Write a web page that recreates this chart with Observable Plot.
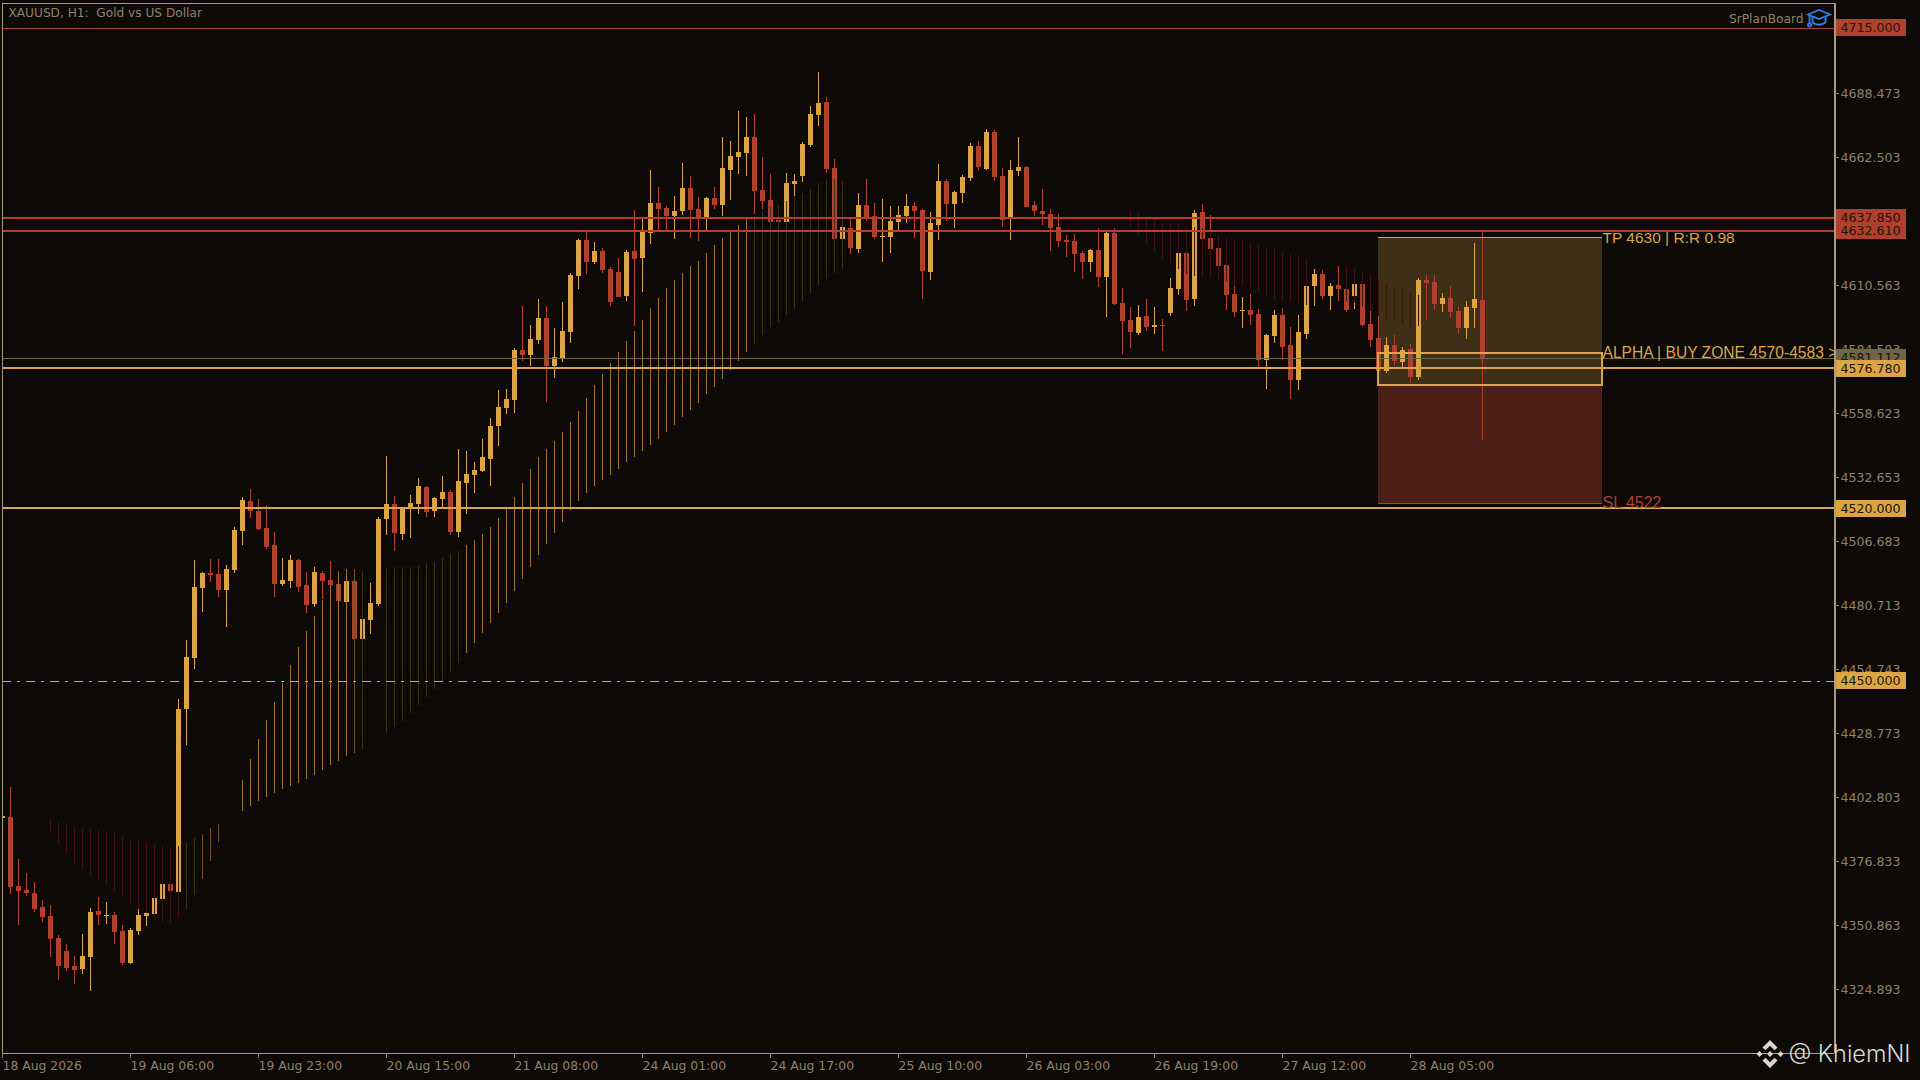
<!DOCTYPE html>
<html>
<head>
<meta charset="utf-8">
<title>XAUUSD H1</title>
<style>html,body{margin:0;padding:0;background:#0c0907;overflow:hidden}svg{display:block}</style>
<script src="https://cdn.jsdelivr.net/npm/d3@7"></script>
<script src="https://cdn.jsdelivr.net/npm/@observablehq/plot@0.6"></script>
</head>
<body>
<div id="chart"></div>
<script>
const high = [
4395.1,4406.9,4377.6,4372.0,4368.3,4361.0,4359.0,4346.8,4343.2,4338.3,
4347.2,4357.8,4362.2,4360.2,4356.1,4350.8,4349.6,4357.4,4355.7,4361.8,
4367.5,4367.5,4442.6,4466.5,4499.0,4494.1,4499.4,4499.4,4497.0,4512.4,
4524.5,4527.8,4523.7,4521.3,4510.3,4499.8,4501.0,4499.4,4494.1,4496.1,
4494.5,4498.6,4494.5,4490.4,4490.4,4475.0,4489.6,4516.4,4541.2,4524.9,
4520.1,4525.3,4532.2,4529.0,4524.5,4533.0,4527.4,4544.0,4543.2,4538.7,
4548.1,4556.6,4568.0,4568.4,4585.0,4602.0,4594.3,4604.9,4602.0,4593.1,
4603.7,4615.4,4629.2,4632.1,4628.0,4625.6,4617.9,4621.5,4624.8,4641.0,
4637.3,4657.2,4650.3,4642.6,4646.7,4660.1,4654.8,4646.3,4646.3,4650.3,
4670.6,4669.0,4681.2,4678.7,4679.9,4662.5,4655.6,4636.9,4656.0,4655.6,
4668.6,4683.2,4697.0,4686.8,4661.7,4634.1,4637.3,4647.9,4653.6,4643.8,
4645.5,4642.6,4642.6,4647.5,4644.2,4641.4,4640.2,4659.7,4653.6,4648.7,
4655.2,4668.2,4669.0,4673.9,4673.5,4658.0,4661.3,4670.6,4658.8,4644.6,
4649.5,4641.4,4639.4,4630.8,4631.2,4624.4,4625.2,4633.7,4632.1,4633.7,
4609.4,4601.6,4602.4,4604.9,4601.6,4596.8,4613.4,4623.5,4623.5,4641.0,
4643.4,4639.0,4625.6,4618.7,4611.4,4605.7,4606.9,4600.8,4590.7,4600.4,
4601.2,4593.5,4598.4,4610.2,4617.1,4616.7,4611.4,4618.3,4608.9,4611.0,
4611.0,4600.0,4598.0,4589.5,4590.3,4585.4,4586.6,4613.4,4614.6,4614.6,
4607.3,4610.2,4601.6,4604.1,4627.6,4632.1];
const bodyTop = [
4395.1,4394.7,4366.7,4365.1,4363.8,4358.2,4354.5,4345.6,4340.3,4334.2,
4338.3,4356.1,4356.5,4354.9,4354.9,4348.4,4348.8,4354.9,4355.7,4361.8,
4367.5,4367.5,4438.5,4459.6,4488.0,4493.7,4493.7,4493.3,4495.3,4511.1,
4523.3,4522.9,4518.9,4512.0,4505.1,4490.9,4499.0,4499.0,4488.8,4494.1,
4493.7,4490.9,4489.2,4490.4,4490.4,4475.0,4481.5,4515.6,4521.7,4521.7,
4520.1,4522.1,4529.0,4528.6,4524.1,4526.6,4526.6,4531.0,4533.9,4535.5,
4540.8,4553.3,4561.1,4564.3,4584.2,4584.2,4588.6,4597.2,4597.2,4581.3,
4591.9,4614.6,4628.8,4628.8,4624.4,4624.4,4617.1,4615.8,4624.0,4624.4,
4632.5,4643.8,4643.8,4641.8,4640.6,4649.9,4649.9,4641.4,4645.9,4645.9,
4658.0,4662.9,4664.5,4670.6,4670.6,4649.1,4645.1,4636.9,4652.0,4652.8,
4667.8,4679.9,4684.4,4684.8,4658.0,4634.1,4633.7,4643.0,4643.0,4638.6,
4630.4,4636.5,4639.0,4642.6,4642.6,4641.0,4635.7,4652.8,4652.8,4648.3,
4654.4,4667.0,4667.0,4672.6,4672.6,4654.8,4657.2,4658.4,4658.4,4643.0,
4640.6,4639.4,4634.1,4628.8,4628.4,4623.5,4624.8,4624.8,4631.7,4631.7,
4603.3,4596.4,4597.6,4598.0,4594.3,4594.3,4609.3,4623.5,4623.5,4639.8,
4640.2,4629.6,4625.6,4618.7,4606.9,4600.4,4600.4,4598.8,4590.3,4598.4,
4598.4,4586.2,4591.5,4610.2,4615.0,4615.0,4610.2,4610.6,4608.9,4611.0,
4611.0,4594.7,4589.1,4586.2,4586.2,4584.2,4584.6,4612.6,4612.6,4611.8,
4605.3,4605.3,4600.0,4601.6,4604.9,4604.5];
const bodyBottom = [
4394.3,4366.3,4364.7,4363.8,4357.4,4354.1,4345.2,4334.2,4333.4,4332.6,
4333.0,4337.9,4354.9,4354.5,4348.0,4335.4,4335.4,4348.4,4354.5,4355.3,
4361.4,4364.7,4364.2,4438.5,4459.2,4487.6,4492.9,4486.8,4486.8,4494.9,
4510.7,4518.9,4511.5,4504.3,4489.2,4489.2,4490.4,4488.0,4480.7,4481.1,
4490.4,4488.8,4482.3,4481.9,4466.9,4466.9,4474.6,4481.1,4515.6,4509.9,
4509.5,4520.1,4521.7,4518.4,4518.9,4523.7,4510.3,4510.3,4530.2,4533.5,
4535.1,4540.0,4553.3,4560.6,4563.9,4582.2,4582.2,4588.2,4577.7,4577.7,
4580.9,4591.5,4614.2,4619.9,4619.9,4616.7,4603.7,4605.7,4606.1,4621.1,
4621.5,4631.7,4641.4,4638.6,4638.6,4640.6,4641.0,4637.8,4637.8,4643.0,
4643.0,4657.2,4662.5,4664.1,4648.7,4644.6,4636.1,4636.1,4636.1,4651.5,
4654.8,4667.4,4679.5,4657.6,4629.2,4629.2,4625.6,4625.2,4637.7,4630.1,
4630.1,4630.1,4636.1,4638.6,4640.6,4616.2,4615.8,4634.9,4643.4,4643.4,
4647.9,4654.0,4658.4,4657.6,4654.4,4636.9,4638.2,4656.8,4642.2,4640.6,
4639.4,4633.7,4628.4,4628.0,4623.1,4619.9,4619.9,4613.8,4613.8,4602.9,
4596.0,4591.5,4591.1,4593.5,4593.5,4593.9,4599.2,4608.9,4604.5,4604.9,
4629.2,4625.2,4618.3,4606.5,4599.6,4600.0,4598.4,4580.1,4580.1,4589.9,
4585.4,4572.0,4572.0,4590.7,4610.2,4606.1,4606.1,4608.9,4600.4,4606.1,
4594.3,4588.2,4575.7,4575.7,4579.7,4579.3,4573.2,4573.2,4611.4,4602.9,
4602.9,4599.6,4593.1,4593.1,4601.2,4580.5];
const low = [
4394.3,4363.4,4350.8,4362.6,4356.1,4352.1,4337.9,4328.6,4332.2,4326.9,
4331.0,4324.1,4350.8,4351.3,4343.2,4334.6,4335.0,4346.8,4350.4,4352.9,
4361.4,4364.7,4364.2,4423.9,4454.7,4477.9,4490.0,4484.0,4471.8,4493.7,
4505.1,4516.0,4511.1,4503.4,4484.0,4488.4,4487.6,4486.0,4477.5,4479.9,
4483.1,4488.8,4482.3,4481.9,4466.9,4466.9,4468.9,4480.3,4509.1,4502.6,
4507.1,4507.9,4517.6,4516.4,4516.4,4520.5,4509.1,4508.3,4517.6,4526.2,
4534.7,4529.0,4545.2,4558.2,4558.6,4579.7,4577.7,4586.6,4563.1,4572.8,
4579.3,4587.0,4608.9,4615.0,4619.1,4615.4,4602.0,4605.7,4604.1,4593.9,
4607.7,4627.2,4632.5,4632.5,4629.2,4639.0,4629.6,4628.4,4632.9,4641.4,
4638.6,4645.1,4655.6,4654.8,4639.4,4641.4,4636.1,4636.1,4636.1,4646.7,
4652.4,4666.6,4675.1,4656.0,4629.2,4629.2,4623.1,4623.5,4636.5,4629.2,
4619.9,4623.5,4632.9,4635.7,4629.6,4604.9,4612.6,4628.8,4636.5,4633.7,
4643.8,4652.8,4657.2,4657.2,4652.8,4634.1,4628.8,4654.8,4642.2,4638.6,
4634.9,4624.4,4626.0,4621.9,4615.8,4613.0,4615.8,4609.8,4597.6,4602.4,
4582.6,4585.0,4590.3,4591.9,4590.7,4583.8,4598.0,4606.5,4600.0,4602.0,
4629.2,4625.2,4618.3,4600.4,4597.6,4593.1,4594.3,4577.3,4568.4,4587.0,
4580.1,4564.3,4568.0,4588.6,4602.0,4604.9,4600.4,4604.1,4599.6,4600.8,
4593.9,4585.4,4575.7,4574.8,4578.1,4577.3,4570.8,4572.0,4596.4,4600.4,
4599.6,4597.2,4590.7,4588.6,4593.1,4547.7];
const direction = ("G RRRRRRRRR GG R G RR GGGGG R GGGG RR GGG RRRR GG RR G RRR G R GGGG R GGG R GG R GGGGGGGG R GG R GGGG R G RRR G R GG RR GG RR G R GGGG RRRR GGGGG RR G R G RR GGGG RR GG R GGG R G RR GG RRRRRRRR G R G RRR G R G R GG R G RRRRR G RR GG RR GGG R G RR G RRR G R G R G RR G RR GG R").replace(/ /g,"").split("");

const ghostRuns = [[6,27],[30,45],[48,105],[141,163],[168,177]];
const ghostTones = [[6,22,"bear"],[23,24,"flat"],[25,27,"weak"],[30,43,"bull"],[44,44,"weak"],[45,45,"flat"],[48,57,"flat"],[58,93,"bull"],[94,105,"flat"],[141,177,"bear"]];
const ghostTop = [
4393.9,4392.6,4391.8,4391.0,4390.2,4389.8,4389.4,4389.0,4388.2,4387.0,4385.7,4384.9,4384.5,4383.7,4382.9,4382.5,4382.9,4384.1,4386.1,4387.8,4390.2,4391.8,
4409.7,4418.2,4426.3,4434.1,4441.3,4449.1,4456.4,4463.7,4470.2,4476.2,4482.7,4488.8,4493.7,4495.3,4495.3,4494.1,
4495.7,4496.1,4496.1,4496.1,4496.5,4497.3,4498.1,4499.8,4501.4,4502.6,4505.1,4507.1,4509.5,4512.4,4516.0,4519.7,4524.5,4530.2,4535.9,4540.8,
4544.0,4547.3,4550.9,4555.0,4559.4,4564.7,4570.0,4574.4,4578.9,4583.4,4587.8,4591.9,4596.4,4601.2,4605.3,4609.3,4612.6,4615.4,4618.3,4620.3,
4623.5,4626.8,4629.6,4632.1,4634.9,4637.3,4638.6,4640.2,4642.2,4643.0,4644.6,4646.3,4647.9,4649.5,4652.0,4653.2,4653.6,4652.8,
4641.0,4639.8,4637.3,4636.9,4635.7,4635.3,4635.3,4634.1,4634.1,4633.7,4632.9,4630.8,4629.6,4629.2,4628.4,4627.6,4626.8,4625.6,4625.2,4624.0,4623.1,4621.9,4621.1,
4618.3,4617.5,4616.2,4615.0,4613.0,4611.4,4610.2,4608.9,4607.3,4606.5];
const ghostBottom = [
4388.2,4383.7,4379.7,4376.0,4373.2,4370.7,4369.1,4367.1,4364.7,4362.2,4359.4,4357.4,4355.7,4352.9,4352.1,4351.7,4353.7,4357.4,4363.0,4369.5,4376.8,4384.5,
4397.1,4399.1,4401.2,4402.8,4404.4,4406.1,4407.3,4408.5,4410.1,4411.7,4413.8,4415.8,4417.4,4419.4,4420.7,4422.3,
4429.2,4431.2,4433.6,4436.9,4440.1,4443.4,4446.6,4449.9,4453.5,4457.2,4461.2,4465.3,4469.3,4473.4,4477.5,4481.5,4486.4,4491.3,4496.1,4501.0,
4505.5,4509.9,4514.4,4519.3,4522.9,4526.2,4529.0,4531.4,4533.5,4535.9,4538.7,4540.8,4543.2,4545.6,4548.1,4550.9,4553.7,4557.0,4559.8,4562.7,
4566.3,4569.2,4572.4,4576.1,4579.7,4583.4,4586.6,4590.3,4593.5,4595.5,4598.4,4601.2,4604.1,4607.3,4610.6,4613.0,4615.4,4617.5,
4634.1,4630.8,4627.2,4623.9,4621.1,4619.1,4617.1,4615.0,4614.2,4613.8,4613.4,4613.0,4612.2,4610.2,4610.2,4608.9,4607.7,4605.7,4604.5,4604.1,4603.7,4602.9,4602.4,
4604.1,4603.3,4601.6,4600.4,4598.0,4596.8,4595.5,4594.7,4593.5,4593.9];

const xTickBars = [0,16,32,48,64,80,96,112,128,144,160,176];
const xTickLabels = ["18 Aug 2026","19 Aug 06:00","19 Aug 23:00","20 Aug 15:00","21 Aug 08:00","24 Aug 01:00","24 Aug 17:00","25 Aug 10:00","26 Aug 03:00","26 Aug 19:00","27 Aug 12:00","28 Aug 05:00"];
const yTicks = [4688.473,4662.503,4636.533,4610.563,4584.593,4558.623,4532.653,4506.683,4480.713,4454.743,4428.773,4402.803,4376.833,4350.863,4324.893];
const zoneStart = 172, zoneEnd = 200;
const tpPrice = 4630, slPrice = 4522, buyHigh = 4583, buyLow = 4570;

if (![bodyTop,bodyBottom,low,direction].every(a => a.length === high.length)) throw new Error("candle lengths " + [high.length,bodyTop.length,bodyBottom.length,low.length,direction.length]);
const ghostBars = ghostRuns.flatMap(([a,b]) => d3.range(a,b+1));
if (ghostBars.length !== ghostTop.length || ghostTop.length !== ghostBottom.length) throw new Error("ghost lengths " + [ghostBars.length,ghostTop.length,ghostBottom.length]);

const candles = high.map((h,i) => ({i, high:h, top:bodyTop[i], bottom:bodyBottom[i], low:low[i], dir:direction[i]}));
const ghosts = ghostBars.map((i,k) => ({i, top:ghostTop[k], bottom:ghostBottom[k], tone:(ghostTones.find(([a,b]) => i>=a && i<=b)||[])[2]}));

const GOLD="#dca544", RED="#b0402d", TAN="#a89a7c", TEXT="#8f8166", DARK="#1c130a", OLIVE="#6e6647";
const AX_FONT="'DejaVu Sans',sans-serif";
const NOTE_FONT="'Liberation Sans',sans-serif";

const labelRows = [
  {p:4715, c:RED},{p:4637.85, c:RED},{p:4632.61, c:RED},{p:4581.112, c:OLIVE},{p:4576.78, c:GOLD},{p:4520, c:GOLD},{p:4450, c:GOLD}
];
const labelMarks = labelRows.flatMap(d => [
  Plot.rect([d],{x1:229.25,x2:238,y1:r=>r.p-3.45,y2:r=>r.p+3.45,fill:d.c,shapeRendering:"crispEdges"}),
  Plot.text([d],{x:229.75,y:"p",text:r=>r.p.toFixed(3),textAnchor:"start",fill:DARK,fontSize:12.6,fontFamily:AX_FONT})
]);

const hline = (p,stroke,strokeWidth,extra={}) => Plot.ruleY([p],{x1:0,x2:229,stroke,strokeWidth,shapeRendering:"crispEdges",...extra});

function decorations() {
  const g = d3.create("svg:g");
  const cap = g.append("g").attr("fill","none").attr("stroke","#2e7fe8").attr("stroke-width",1.8);
  cap.append("path").attr("d","M1808 14.5 L1819 10 L1830 14.5 L1819 19 Z");
  cap.append("path").attr("d","M1812.5 17 V22.5 Q1819 27 1825.5 22.5 V17");
  cap.append("path").attr("d","M1809.5 15 V23");
  cap.append("circle").attr("cx",1809.5).attr("cy",25).attr("r",1.6);
  const logo = g.append("g").attr("fill","#d8d8d2").attr("transform","translate(1770,1054)");
  logo.append("path").attr("d","M0 -14 L7.5 -6.5 L4.5 -3.8 L0 -8.2 L-4.5 -3.8 L-7.5 -6.5 Z");
  logo.append("path").attr("d","M0 14 L7.5 6.5 L4.5 3.8 L0 8.2 L-4.5 3.8 L-7.5 6.5 Z");
  logo.append("path").attr("d","M0 -3 L3 0 L0 3 L-3 0 Z");
  logo.append("path").attr("d","M-13.5 0 L-10.5 -3 L-7.5 0 L-10.5 3 Z");
  logo.append("path").attr("d","M13.5 0 L10.5 -3 L7.5 0 L10.5 3 Z");
  return g.node();
}

const chart = Plot.plot({
  width:1920, height:1080,
  marginLeft:2, marginRight:86, marginTop:3, marginBottom:27,
  style:{background:"#0c0907", fontFamily:AX_FONT},
  x:{domain:[0,229], axis:null},
  y:{domain:[4298.92,4724.99], axis:null},
  color:{domain:["G","R","bear","flat","weak","bull"], range:[GOLD,RED,"#3d130b","#3e2d12","#6e5020","#9a7229"]},
  marks:[
    Plot.rect([0],{x1:zoneStart,x2:zoneEnd,y1:buyLow,y2:tpPrice,fill:"#3f2f18",shapeRendering:"crispEdges"}),
    Plot.rect([0],{x1:zoneStart,x2:zoneEnd,y1:slPrice,y2:buyLow,fill:"#4c2016",shapeRendering:"crispEdges"}),
    Plot.ruleX(candles,{x:"i",y1:"low",y2:"high",stroke:"dir",strokeWidth:1,shapeRendering:"crispEdges",clip:true}),
    Plot.rect(candles,{x1:d=>d.i-0.3125,x2:d=>d.i+0.3125,y1:"bottom",y2:"top",fill:"dir",shapeRendering:"crispEdges",clip:true}),
    Plot.ruleX(ghosts,{x:"i",y1:"bottom",y2:"top",stroke:"tone",strokeWidth:1,shapeRendering:"crispEdges"}),
    hline(4715,RED,1),
    hline(4637.85,RED,2,{dy:-0.5}),
    hline(4632.61,RED,2,{dy:-0.5}),
    hline(4581.112,OLIVE,1),
    hline(4576.78,GOLD,2,{dy:-0.5}),
    hline(4520,GOLD,2,{dy:-0.5}),
    hline(4450,GOLD,1,{strokeDasharray:"9 6 3 6"}),
    Plot.ruleY([tpPrice],{x1:zoneStart,x2:zoneEnd,stroke:GOLD,strokeWidth:1,shapeRendering:"crispEdges"}),
    Plot.ruleY([slPrice],{x1:zoneStart,x2:zoneEnd,stroke:RED,strokeWidth:1,shapeRendering:"crispEdges"}),
    Plot.rect([0],{x1:zoneStart,x2:zoneEnd,y1:buyLow,y2:buyHigh,fill:"none",stroke:GOLD,strokeWidth:2,shapeRendering:"crispEdges"}),
    Plot.text(["TP 4630 | R:R 0.98"],{x:zoneEnd,y:tpPrice,text:d=>d,textAnchor:"start",fill:GOLD,fontSize:15.5,fontFamily:NOTE_FONT}),
    Plot.text(["ALPHA | BUY ZONE 4570-4583 >"],{x:zoneEnd,y:buyHigh,text:d=>d,textAnchor:"start",fill:GOLD,fontSize:15.6,fontFamily:NOTE_FONT,clip:true}),
    Plot.text(["SL 4522"],{x:zoneEnd,y:slPrice,dy:-1,text:d=>d,textAnchor:"start",fill:RED,fontSize:16,fontFamily:NOTE_FONT}),
    Plot.ruleX([0],{stroke:TAN,strokeWidth:1,shapeRendering:"crispEdges"}),
    Plot.ruleX([229],{stroke:TAN,strokeWidth:2,shapeRendering:"crispEdges"}),
    Plot.ruleY([4298.92,4724.99],{stroke:TAN,strokeWidth:1,shapeRendering:"crispEdges"}),
    Plot.axisY({anchor:"right",ticks:yTicks,tickFormat:d=>d.toFixed(3),tickSize:4,tickPadding:2,fontSize:12.6,color:TEXT,label:null}),
    Plot.axisX({anchor:"bottom",ticks:xTickBars,tickFormat:d=>xTickLabels[xTickBars.indexOf(d)],tickSize:5,tickPadding:3,fontSize:12.4,textAnchor:"start",color:TEXT,label:null}),
    ...labelMarks,
    Plot.text(["XAUUSD, H1:\u00a0\u00a0Gold vs US Dollar"],{frameAnchor:"top-left",text:d=>d,dx:6,dy:10,lineAnchor:"middle",textAnchor:"start",fill:TEXT,fontSize:12.15}),
    Plot.text(["SrPlanBoard"],{frameAnchor:"top-right",text:d=>d,dx:-31,dy:16,lineAnchor:"middle",textAnchor:"end",fill:TEXT,fontSize:12.2}),
    Plot.text(["@ KhiemNI"],{frameAnchor:"bottom-right",text:d=>d,dx:76,dy:1,lineAnchor:"middle",textAnchor:"end",fill:"#d8d8d2",fontSize:23.5,fontFamily:"Inter,sans-serif",fontWeight:300}),
    decorations
  ]
});
document.getElementById("chart").append(chart);
</script>
</body>
</html>
